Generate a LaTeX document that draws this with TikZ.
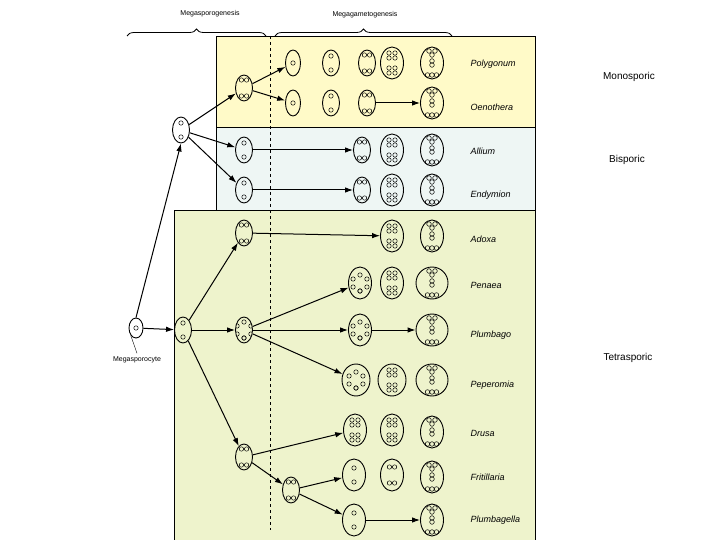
\documentclass[tikz,border=0pt]{standalone}
\usepackage{fontspec}
\setmainfont{Liberation Sans}
\usetikzlibrary{shapes.geometric, arrows.meta, decorations.pathreplacing}
\definecolor{monoC}{HTML}{FFFAC8}
\definecolor{biC}{HTML}{EEF6F4}
\definecolor{tetraC}{HTML}{EEF3CC}
\tikzset{
  cell/.style={ellipse, draw, line width=0.9pt, minimum width=17, minimum height=26, inner sep=0},
  big/.style={minimum width=23, minimum height=32},
  nuc/.style={draw, line width=0.5pt},
  n1/.style={path picture={\draw[nuc] (path picture bounding box.center) circle (2.2);}},
  n2/.style={path picture={\foreach \y in {-7,7}
      \draw[nuc] ($(path picture bounding box.center)+(0,\y)$) circle (2.2);}},
  n4/.style={path picture={\foreach \x/\y in {-2.6/-8,2.6/-8,-2.6/8,2.6/8}
      \draw[nuc] ($(path picture bounding box.center)+(\x,\y)$) circle (2.2);}},
  n8/.style={path picture={\foreach \x/\y in {-3/-10,3/-10,-3/-5,3/-5,-3/5,3/5,-3/10,3/10}
      \draw[nuc] ($(path picture bounding box.center)+(\x,\y)$) circle (2.2);}},
  ring/.style={path picture={\foreach \a in {90,150,...,450}
      \draw[nuc] ($(path picture bounding box.center)+(\a:8)$) circle (2.2);}},
  sac/.style={path picture={\foreach \x/\y in {-3/-12,3/-12,0/-8,0/-2,0/2,-4.5/12,0/12,4.5/12}
      \draw[nuc] ($(path picture bounding box.center)+(\x,\y)$) circle (2.3);}},
  arr/.style={-{Latex[length=8pt,width=5.5pt]}, line width=1pt},
  sp/.style={font=\small\itshape, anchor=west},
  brc/.style={decorate, decoration={brace, amplitude=7pt}, thick},
}
\usetikzlibrary{calc}
\begin{document}
\begin{tikzpicture}[x=1pt, y=-1pt]
  \useasboundingbox (0,0) rectangle (720,540);
  % panels
  \fill[tetraC] (174,210) rectangle (535,540);
  \draw (174,540) -- (174,210) -- (535,210) -- (535,540);
  \filldraw[fill=biC] (216,127) rectangle (535,210);
  \filldraw[fill=monoC] (216,36) rectangle (535,127);
  \draw[dashed] (270,36) -- (270,530);

  % braces and headings
  \draw[brc] (127,36) -- (266,36);
  \draw[brc] (275,36) -- (452,36);
  \node[font=\scriptsize] (hspo) at (210,14) {Megasporogenesis};
  \node[font=\scriptsize] (hgam) at (365,15) {Megagametogenesis};

  % early stages
  \node[cell, minimum width=14, minimum height=20, n1] (msc) at (136,328) {};
  \node[font=\scriptsize] (lmsc) at (137,360) {Megasporocyte};
  \draw (lmsc.north) -- (msc.south west);
  \node[cell, n2] (dyad) at (181,130) {};
  \node[cell, n2] (t0) at (183,330) {};

  % monosporic
  \node[cell, n4] (m0) at (244,88) {};
  \node[cell, minimum width=15, n1] (p1) at (293,63) {};
  \node[cell, n2] (p2) at (331,63) {};
  \node[cell, n4] (p3) at (367,63) {};
  \node[cell, big, n8] (p4) at (392,63) {};
  \node[cell, big, sac] (p5) at (432,63) {};
  \node[cell, minimum width=15, n1] (o1) at (293,103) {};
  \node[cell, n2] (o2) at (331,103) {};
  \node[cell, n4] (o3) at (367,103) {};
  \node[cell, big, sac] (o4) at (432,103) {};

  % bisporic
  \node[cell, n2] (a0) at (244,150) {};
  \node[cell, n4] (a1) at (362,150) {};
  \node[cell, big, n8] (a2) at (392,150) {};
  \node[cell, big, sac] (a3) at (432,150) {};
  \node[cell, n2] (e0) at (244,190) {};
  \node[cell, n4] (e1) at (362,190) {};
  \node[cell, big, n8] (e2) at (392,190) {};
  \node[cell, big, sac] (e3) at (432,190) {};

  % tetrasporic
  \node[cell, n4] (d0) at (244,233) {};
  \node[cell, big, n8] (d1) at (392,236) {};
  \node[cell, big, sac] (d2) at (432,236) {};
  \node[cell, ring] (q0) at (244,330) {};
  \node[cell, big, ring] (pe1) at (360,283) {};
  \node[cell, big, n8] (pe2) at (392,283) {};
  \node[cell, big, minimum width=32, sac] (pe3) at (432,283) {};
  \node[cell, big, ring] (pl1) at (360,330) {};
  \node[cell, big, minimum width=32, sac] (pl2) at (432,330) {};
  \node[cell, big, minimum width=28, ring] (pp1) at (356,380) {};
  \node[cell, big, minimum width=28, n8] (pp2) at (392,380) {};
  \node[cell, big, minimum width=32, sac] (pp3) at (432,380) {};
  \node[cell, n4] (r0) at (244,457) {};
  \node[cell, big, n8] (dr1) at (355,430) {};
  \node[cell, big, n8] (dr2) at (392,430) {};
  \node[cell, big, sac] (dr3) at (432,432) {};
  \node[cell, n4] (r1) at (291,490) {};
  \node[cell, big, n2] (f1) at (354,475) {};
  \node[cell, big, n4] (f2) at (392,475) {};
  \node[cell, big, sac] (f3) at (432,477) {};
  \node[cell, big, n2] (b1) at (354,520) {};
  \node[cell, big, sac] (b2) at (432,520) {};

  % connectors
  \draw[arr] (msc) -- (t0);
  \draw[arr] (msc.north) -- (dyad.south);
  \draw[arr] (dyad) -- (m0);
  \draw[arr] (dyad) -- (a0);
  \draw[arr] (dyad) -- (e0);
  \draw[arr] (m0) -- (p1);
  \draw[arr] (m0) -- (o1);
  \draw[arr] (o3) -- (o4);
  \draw[arr] (a0) -- (a1);
  \draw[arr] (e0) -- (e1);
  \draw[arr] (t0) -- (d0);
  \draw[arr] (t0) -- (q0);
  \draw[arr] (t0) -- (r0);
  \draw[arr] (d0) -- (d1);
  \draw[arr] (q0) -- (pe1);
  \draw[arr] (q0) -- (pl1);
  \draw[arr] (q0) -- (pp1);
  \draw[arr] (pl1) -- (pl2);
  \draw[arr] (r0) -- (dr1);
  \draw[arr] (r0) -- (r1);
  \draw[arr] (r1) -- (f1);
  \draw[arr] (r1) -- (b1);
  \draw[arr] (b1) -- (b2);

  % species
  \node[sp] (lpol) at (467,64) {Polygonum};
  \node[sp] (loen) at (467,107) {Oenothera};
  \node[sp] (lall) at (467,151) {Allium};
  \node[sp] (lend) at (467,195) {Endymion};
  \node[sp] (lado) at (467,239) {Adoxa};
  \node[sp] (lpen) at (467,285) {Penaea};
  \node[sp] (lplu) at (467,335) {Plumbago};
  \node[sp] (lpep) at (467,385) {Peperomia};
  \node[sp] (ldru) at (467,433) {Drusa};
  \node[sp] (lfri) at (467,477) {Fritillaria};
  \node[sp] (lpla) at (467,520) {Plumbagella};

  % groups
  \node (gmono) at (629,77) {Monosporic};
  \node (gbi) at (627,160) {Bisporic};
  \node (gtetra) at (628,358) {Tetrasporic};
\end{tikzpicture}
\end{document}
